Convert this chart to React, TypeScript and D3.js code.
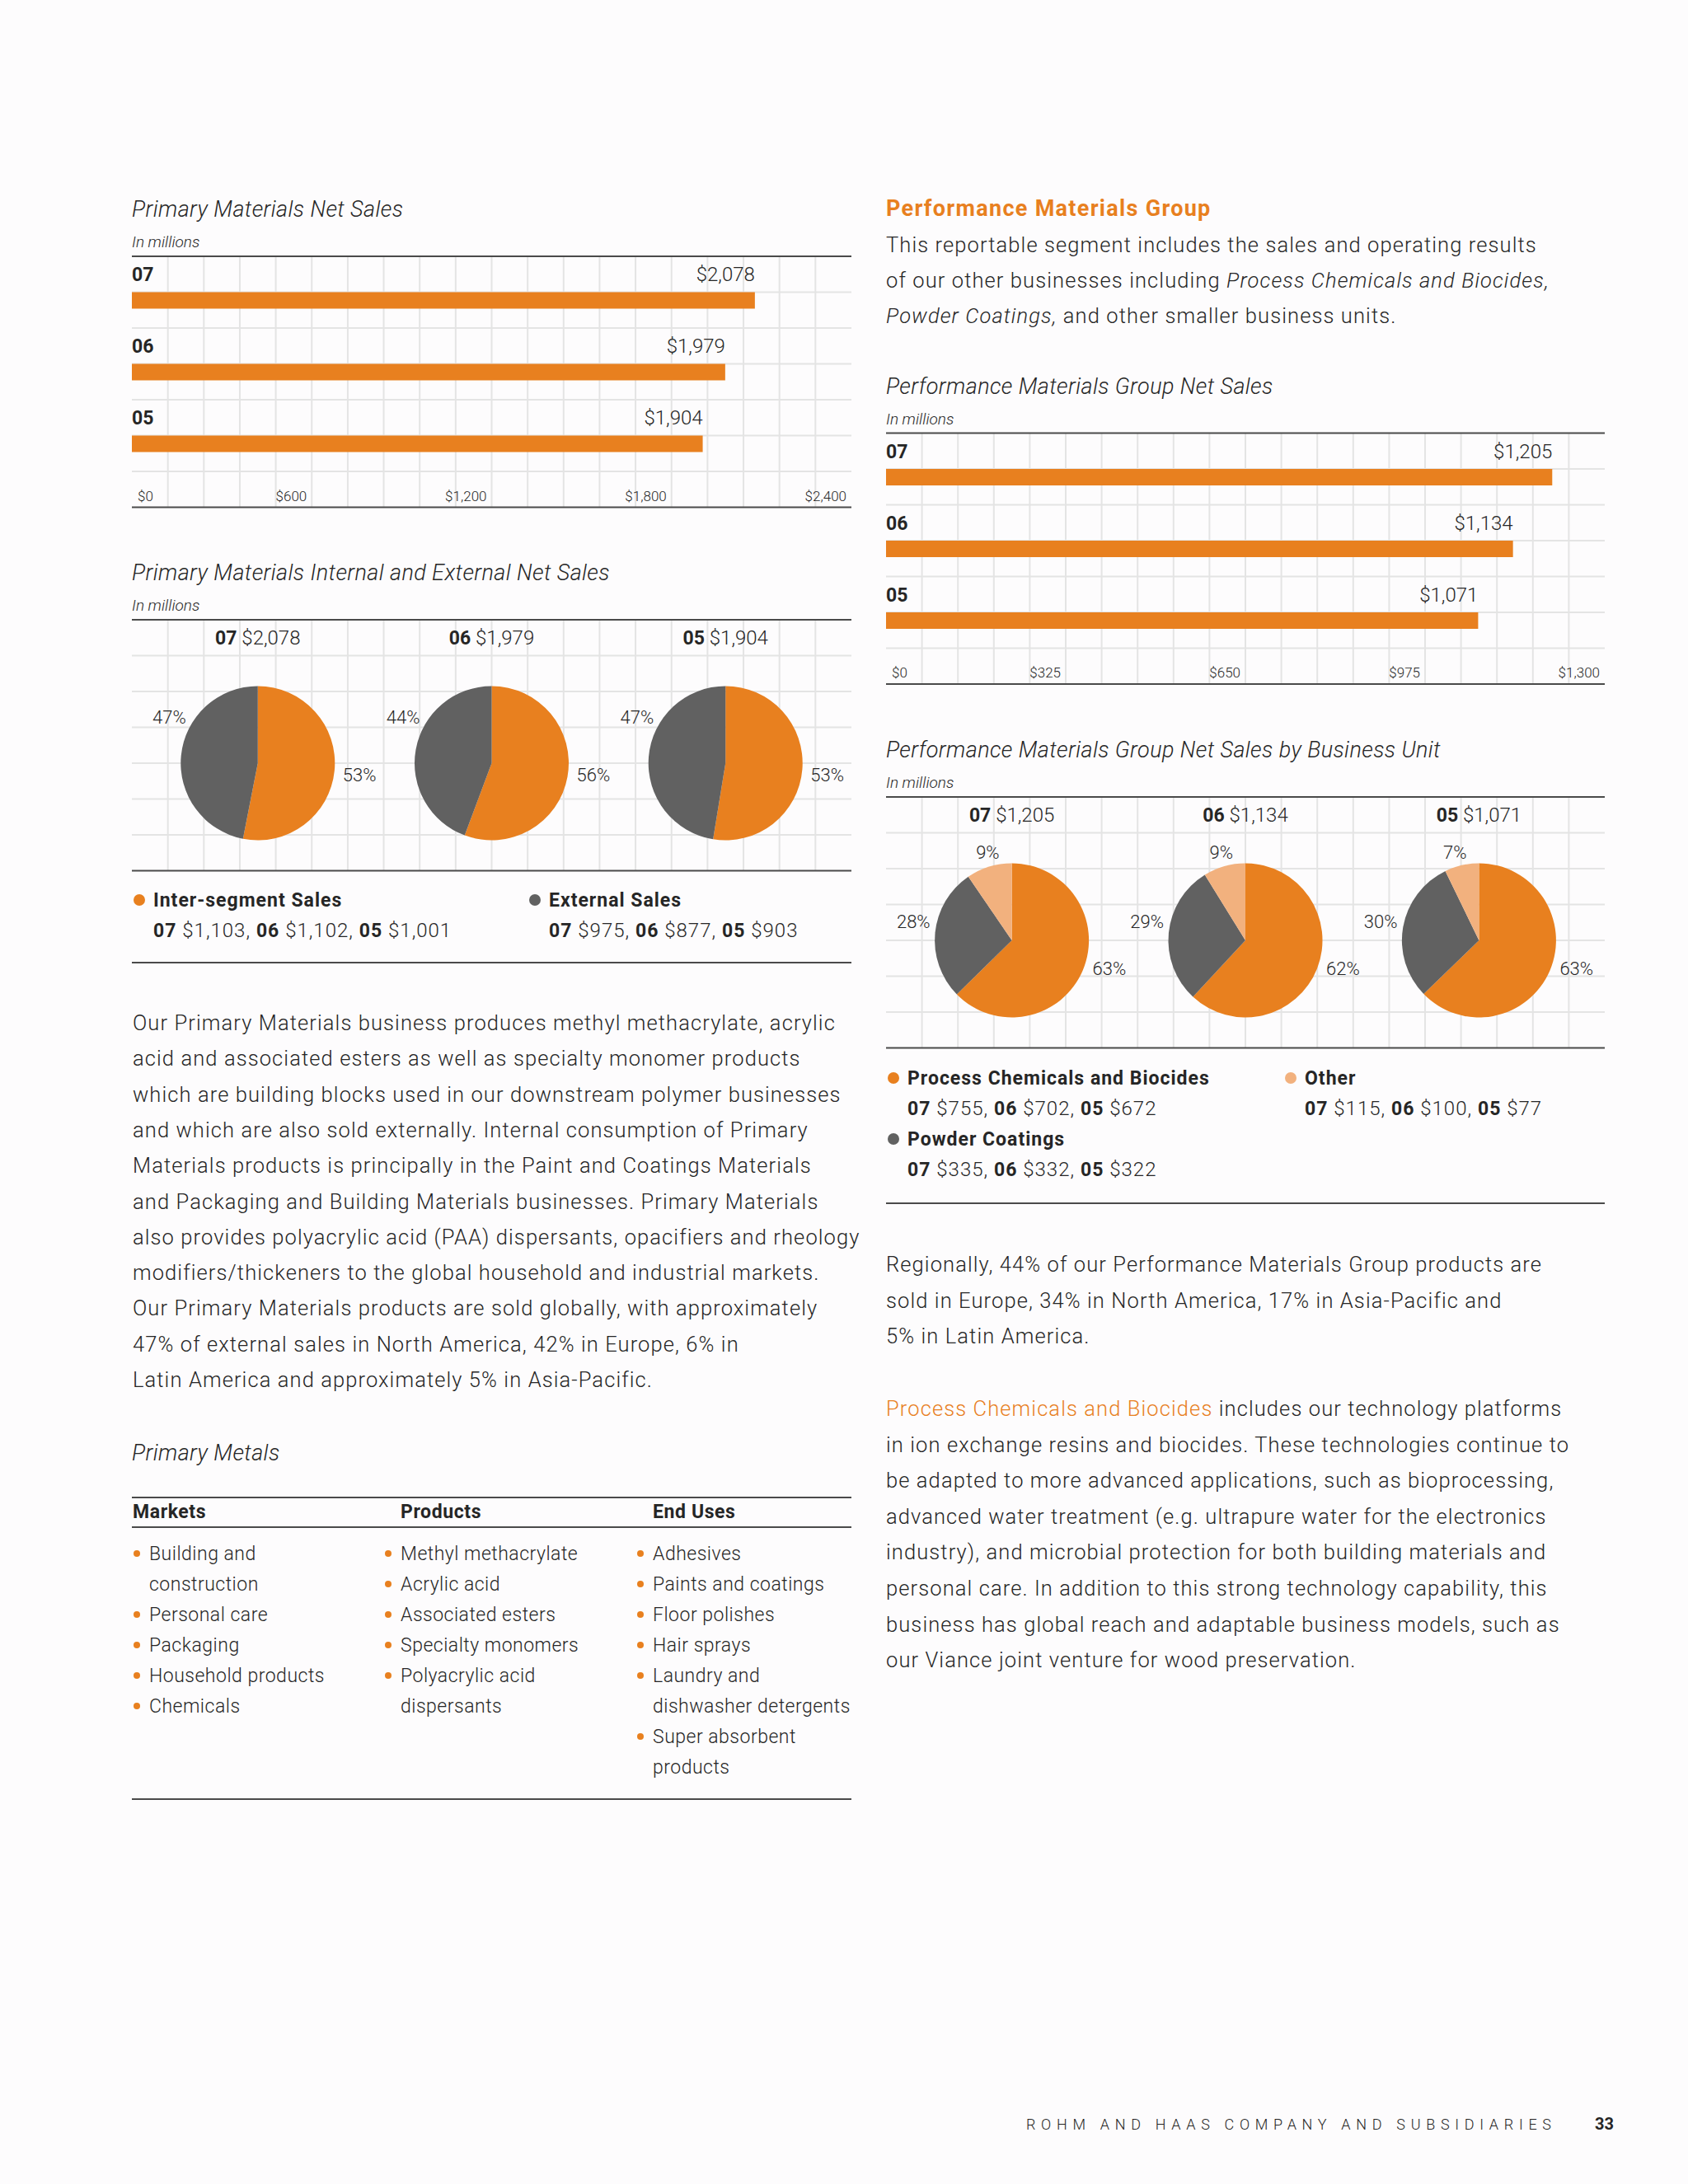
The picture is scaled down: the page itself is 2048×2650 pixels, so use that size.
import React, { useEffect } from "react";
import * as d3 from "d3";

// ---- data ----
const years = ["07", "06", "05"];

const pmNetSales = [2078, 1979, 1904];
const pmTicks = [0, 600, 1200, 1800, 2400];
const pmInterSegment = [1103, 1102, 1001];
const pmExternal = [975, 877, 903];
const pmInterPct = [53, 56, 53];
const pmExternalPct = [47, 44, 47];

const pmgNetSales = [1205, 1134, 1071];
const pmgTicks = [0, 325, 650, 975, 1300];
const pmgProcess = [755, 702, 672];
const pmgPowder = [335, 332, 322];
const pmgOther = [115, 100, 77];
const pmgProcessPct = [63, 62, 63];
const pmgPowderPct = [28, 29, 30];
const pmgOtherPct = [9, 9, 7];

const tableHeads = ["Markets", "Products", "End Uses"];
const markets = [["Building and", "construction"], ["Personal care"], ["Packaging"], ["Household products"], ["Chemicals"]];
const products = [["Methyl methacrylate"], ["Acrylic acid"], ["Associated esters"], ["Specialty monomers"], ["Polyacrylic acid", "dispersants"]];
const endUses = [["Adhesives"], ["Paints and coatings"], ["Floor polishes"], ["Hair sprays"], ["Laundry and", "dishwasher detergents"], ["Super absorbent", "products"]];

const leftBody = [
  "Our Primary Materials business produces methyl methacrylate, acrylic",
  "acid and associated esters as well as specialty monomer products",
  "which are building blocks used in our downstream polymer businesses",
  "and which are also sold externally. Internal consumption of Primary",
  "Materials products is principally in the Paint and Coatings Materials",
  "and Packaging and Building Materials businesses. Primary Materials",
  "also provides polyacrylic acid (PAA) dispersants, opacifiers and rheology",
  "modifiers/thickeners to the global household and industrial markets.",
  "Our Primary Materials products are sold globally, with approximately",
  "47% of external sales in North America, 42% in Europe, 6% in",
  "Latin America and approximately 5% in Asia-Pacific.",
];

const regionalBody = [
  "Regionally, 44% of our Performance Materials Group products are",
  "sold in Europe, 34% in North America, 17% in Asia-Pacific and",
  "5% in Latin America.",
];

const processBody = [
  " includes our technology platforms",
  "in ion exchange resins and biocides. These technologies continue to",
  "be adapted to more advanced applications, such as bioprocessing,",
  "advanced water treatment (e.g. ultrapure water for the electronics",
  "industry), and microbial protection for both building materials and",
  "personal care. In addition to this strong technology capability, this",
  "business has global reach and adaptable business models, such as",
  "our Viance joint venture for wood preservation.",
];

// ---- look ----
const ORANGE = "#e8801f";
const GRAY = "#616161";
const LIGHT = "#f2b17e";
const GRID = "#e4e4e4";
const RULE = "#4a4a4a";
const INK = "#262626";
const FONT = "Roboto, 'Liberation Sans', Arial, sans-serif";
const CELL = 43.5;
const fmt = d3.format("$,");

const LEFT_X = 160;
const RIGHT_X = 1075;
const COL_W = 873;

function Grid({ x0, top, width }: { x0: number; top: number; width: number }) {
  const c = width / 20;
  return (
    <g>
      {d3.range(1, 20).map((k) => (
        <line key={"v" + k} x1={x0 + k * c} x2={x0 + k * c} y1={top} y2={top + 7 * CELL} stroke={GRID} strokeWidth={2} />
      ))}
      {d3.range(1, 7).map((k) => (
        <line key={"h" + k} x1={x0} x2={x0 + width} y1={top + k * CELL} y2={top + k * CELL} stroke={GRID} strokeWidth={2} />
      ))}
      <line x1={x0} x2={x0 + width} y1={top} y2={top} stroke={RULE} strokeWidth={2} />
      <line x1={x0} x2={x0 + width} y1={top + 7 * CELL} y2={top + 7 * CELL} stroke={RULE} strokeWidth={2} />
    </g>
  );
}

function ChartTitle({ x, top, title }: { x: number; top: number; title: string }) {
  return (
    <g fontFamily={FONT} fill={INK} fontStyle="italic" fontWeight={300}>
      <text x={x} y={top - 48} fontSize={27} letterSpacing={0.4}>{title}</text>
      <text x={x} y={top - 11} fontSize={19}>In millions</text>
    </g>
  );
}

function BarChart({ x0, top, width, title, values, ticks }: {
  x0: number; top: number; width: number; title: string; values: number[]; ticks: number[];
}) {
  const max = ticks[ticks.length - 1];
  const x = d3.scaleLinear().domain([0, max]).range([x0, x0 + width]);
  const y = d3.scaleBand().domain(years).range([top, top + 6 * CELL]);
  return (
    <g fontFamily={FONT}>
      <ChartTitle x={x0} top={top} title={title} />
      <Grid x0={x0} top={top} width={width} />
      {years.map((yr, i) => (
        <g key={yr}>
          <rect x={x(0)} y={(y(yr) as number) + CELL} width={x(values[i]) - x(0)} height={20} fill={ORANGE} />
          <text x={x0} y={(y(yr) as number) + 30} fontSize={23} fontWeight={700} fill={INK}>{yr}</text>
          <text x={x(values[i])} y={(y(yr) as number) + 30} fontSize={24} fontWeight={300} fill={INK} textAnchor="end">
            {fmt(values[i])}
          </text>
        </g>
      ))}
      {ticks.map((t, i) => (
        <text key={t} x={i === 0 ? x(t) + 7 : x(t) - 6} y={top + 7 * CELL - 8} fontSize={17} fontWeight={300} fill={INK}
          textAnchor={i === 0 ? "start" : "end"}>
          {fmt(t)}
        </text>
      ))}
    </g>
  );
}

type LabelPos = { dx: number; dy: number; anchor: string };

function PieRow({ x0, top, width, title, totals, series, colors, pcts, labelPos }: {
  x0: number; top: number; width: number; title: string; totals: number[]; series: number[][];
  colors: string[]; pcts: number[][]; labelPos: LabelPos[];
}) {
  const c = width / 20;
  const cx = d3.scalePoint().domain(years).range([x0 + 3.5 * c, x0 + 16.5 * c]);
  const cy = top + 174;
  const r = 93.5;
  const pie = d3.pie<number>().sort(null).value((d) => d);
  const arc = d3.arc<d3.PieArcDatum<number>>().innerRadius(0).outerRadius(r);
  return (
    <g fontFamily={FONT}>
      <ChartTitle x={x0} top={top} title={title} />
      <Grid x0={x0} top={top} width={width} />
      {years.map((yr, i) => {
        const px = cx(yr) as number;
        const slices = pie(series.map((s) => s[i]));
        return (
          <g key={yr}>
            <text x={px} y={top + 30} textAnchor="middle" fontSize={23} fill={INK} style={{ whiteSpace: "pre" }}>
              <tspan fontWeight={700}>{yr}</tspan>
              <tspan fontWeight={300} fontSize={24}>{" " + fmt(totals[i])}</tspan>
            </text>
            <g transform={`translate(${px},${cy})`}>
              {slices.map((s, k) => (
                <path key={k} d={arc(s) || ""} fill={colors[k]} />
              ))}
            </g>
            {series.map((_, k) => (
              <text key={"l" + k} x={px + labelPos[k].dx} y={cy + labelPos[k].dy} textAnchor={labelPos[k].anchor}
                fontSize={22} fontWeight={300} fill={INK}>
                {pcts[k][i]}%
              </text>
            ))}
          </g>
        );
      })}
    </g>
  );
}

function LegendItem({ x, y, color, name, values }: { x: number; y: number; color: string; name: string; values: number[] }) {
  return (
    <g fontFamily={FONT} fill={INK}>
      <circle cx={x + 9} cy={y - 8} r={7} fill={color} />
      <text x={x + 26} y={y} fontSize={23} fontWeight={700} letterSpacing={1}>{name}</text>
      <text x={x + 26} y={y + 37} fontSize={23} letterSpacing={1} style={{ whiteSpace: "pre" }}>
        {years.map((yr, i) => (
          <React.Fragment key={yr}>
            <tspan fontWeight={700}>{yr}</tspan>
            <tspan fontWeight={300} fontSize={24}>{" " + fmt(values[i]) + (i < years.length - 1 ? ", " : "")}</tspan>
          </React.Fragment>
        ))}
      </text>
    </g>
  );
}

function Lines({ x, y, lines, size = 25.5, gap = 43.4 }: { x: number; y: number; lines: React.ReactNode[]; size?: number; gap?: number }) {
  return (
    <g fontFamily={FONT} fill={INK} fontSize={size} fontWeight={300} letterSpacing={1.1}>
      {lines.map((l, i) => (
        <text key={i} x={x} y={y + i * gap} style={{ whiteSpace: "pre" }}>{l}</text>
      ))}
    </g>
  );
}

function MetalsTable({ x0, top, width }: { x0: number; top: number; width: number }) {
  const cols = d3.scaleOrdinal<string, number>().domain(tableHeads).range([x0, x0 + 325, x0 + 631]);
  const groups = [markets, products, endUses];
  return (
    <g fontFamily={FONT} fill={INK}>
      <text x={x0} y={top - 45} fontSize={27} fontStyle="italic" fontWeight={300} letterSpacing={0.4}>Primary Metals</text>
      <line x1={x0} x2={x0 + width} y1={top} y2={top} stroke={RULE} strokeWidth={2} />
      <line x1={x0} x2={x0 + width} y1={top + 36} y2={top + 36} stroke={RULE} strokeWidth={2} />
      <line x1={x0} x2={x0 + width} y1={top + 366} y2={top + 366} stroke={RULE} strokeWidth={2} />
      {tableHeads.map((h, ci) => {
        const hx = cols(h);
        // first column is indented under its header, the others hang the bullet to the left
        const textX = ci === 0 ? hx + 21 : hx + 1;
        const dotX = textX - 15;
        let row = 0;
        return (
          <g key={h}>
            <text x={hx + 1} y={top + 25} fontSize={23} fontWeight={700} letterSpacing={0.6}>{h}</text>
            {groups[ci].map((item, k) => {
              const start = row;
              row += item.length;
              return (
                <g key={k}>
                  <circle cx={dotX} cy={top + 76 + start * 37 - 8} r={4} fill={ORANGE} />
                  {item.map((t, j) => (
                    <text key={j} x={textX} y={top + 76 + (start + j) * 37} fontSize={23} fontWeight={300} letterSpacing={0.5}>{t}</text>
                  ))}
                </g>
              );
            })}
          </g>
        );
      })}
    </g>
  );
}

export default function App() {
  useEffect(() => {
    document.body.style.margin = "0";
    document.body.style.background = "#fdfcfd";
  }, []);

  return (
    <div style={{ position: "absolute", left: 0, top: 0, width: 2048, height: 2650, overflow: "hidden" }}>
      <svg width={2048} height={2650} style={{ display: "block", background: "#fdfcfd" }}>
        {/* left column */}
        <BarChart x0={LEFT_X} top={311} width={COL_W} title="Primary Materials Net Sales" values={pmNetSales} ticks={pmTicks} />
        <PieRow x0={LEFT_X} top={752} width={COL_W} title="Primary Materials Internal and External Net Sales"
          totals={pmNetSales} series={[pmInterSegment, pmExternal]} colors={[ORANGE, GRAY]}
          pcts={[pmInterPct, pmExternalPct]}
          labelPos={[{ dx: 103, dy: 22, anchor: "start" }, { dx: -87, dy: -48, anchor: "end" }]} />
        <LegendItem x={LEFT_X} y={1100} color={ORANGE} name="Inter-segment Sales" values={pmInterSegment} />
        <LegendItem x={640} y={1100} color={GRAY} name="External Sales" values={pmExternal} />
        <line x1={LEFT_X} x2={LEFT_X + COL_W} y1={1168} y2={1168} stroke={RULE} strokeWidth={2} />

        <Lines x={161} y={1250} lines={leftBody} gap={43.3} />
        <MetalsTable x0={LEFT_X} top={1817} width={COL_W} />

        {/* right column */}
        <text x={RIGHT_X} y={262} fontFamily={FONT} fontSize={27} fontWeight={700} fill={ORANGE} letterSpacing={1.3}>
          Performance Materials Group
        </text>
        <Lines x={RIGHT_X} y={305.5} lines={[
          "This reportable segment includes the sales and operating results",
          <>of our other businesses including <tspan fontStyle="italic">Process Chemicals and Biocides,</tspan></>,
          <><tspan fontStyle="italic">Powder Coatings,</tspan> and other smaller business units.</>,
        ]} />
        <BarChart x0={RIGHT_X} top={525.5} width={872} title="Performance Materials Group Net Sales" values={pmgNetSales} ticks={pmgTicks} />
        <PieRow x0={RIGHT_X} top={967} width={872} title="Performance Materials Group Net Sales by Business Unit"
          totals={pmgNetSales} series={[pmgProcess, pmgPowder, pmgOther]} colors={[ORANGE, GRAY, LIGHT]}
          pcts={[pmgProcessPct, pmgPowderPct, pmgOtherPct]}
          labelPos={[{ dx: 98, dy: 42, anchor: "start" }, { dx: -99, dy: -15, anchor: "end" }, { dx: -15, dy: -99, anchor: "end" }]} />
        <LegendItem x={RIGHT_X} y={1316} color={ORANGE} name="Process Chemicals and Biocides" values={pmgProcess} />
        <LegendItem x={RIGHT_X} y={1390} color={GRAY} name="Powder Coatings" values={pmgPowder} />
        <LegendItem x={1557} y={1316} color={LIGHT} name="Other" values={pmgOther} />
        <line x1={RIGHT_X} x2={RIGHT_X + 872} y1={1460} y2={1460} stroke={RULE} strokeWidth={2} />

        <Lines x={RIGHT_X} y={1543} lines={regionalBody} gap={43.6} />
        <Lines x={RIGHT_X} y={1718} gap={43.6} lines={processBody.map((l, i) =>
          i === 0 ? <><tspan fill={ORANGE}>Process Chemicals and Biocides</tspan>{l}</> : l)} />

        {/* footer */}
        <text x={1245} y={2584} fontFamily={FONT} fontSize={18} fontWeight={300} fill={INK}
          textLength={637} lengthAdjust="spacing">ROHM AND HAAS COMPANY AND SUBSIDIARIES</text>
        <text x={1935} y={2584} fontFamily={FONT} fontSize={20} fontWeight={700} fill={INK}>33</text>
      </svg>
    </div>
  );
}
